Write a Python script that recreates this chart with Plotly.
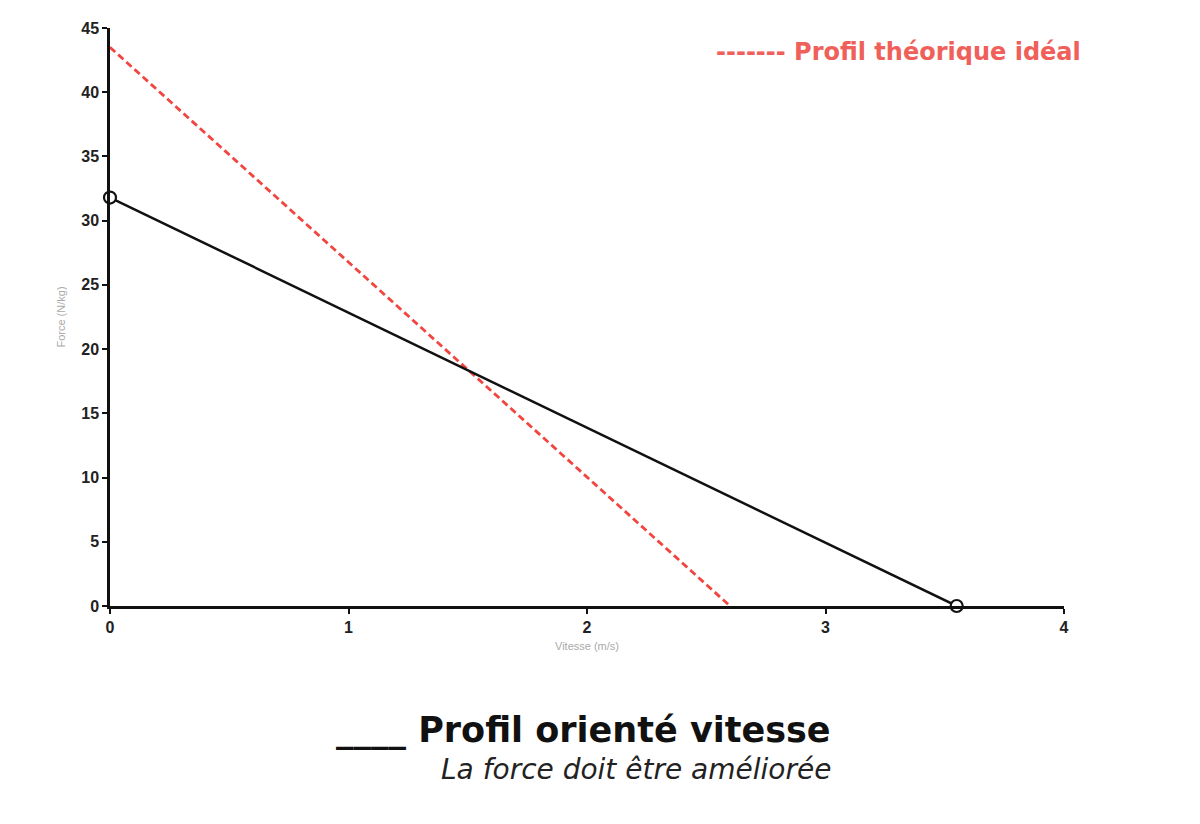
import plotly.graph_objects as go

# Data
profile_velocity = [0, 3.55]
profile_force = [31.8, 0]
ideal_velocity = [0, 2.6]
ideal_force = [43.5, 0]

x_ticks = [0, 1, 2, 3, 4]
y_ticks = [0, 5, 10, 15, 20, 25, 30, 35, 40, 45]

legend_text = "------- Profil théorique idéal"
title_text = "____ Profil orienté vitesse"
subtitle_text = "La force doit être améliorée"
x_title = "Vitesse (m/s)"
y_title = "Force (N/kg)"

fig = go.Figure()
fig.add_trace(go.Scatter(
    x=ideal_velocity, y=ideal_force, mode="lines",
    line=dict(color="#f2453f", width=2.8, dash="7px,4px"),
    showlegend=False, hoverinfo="skip", cliponaxis=False,
))
fig.add_trace(go.Scatter(
    x=profile_velocity, y=profile_force, mode="lines+markers",
    line=dict(color="#111111", width=2.5),
    marker=dict(size=12, color="white", line=dict(color="#111111", width=2.2)),
    showlegend=False, hoverinfo="skip", cliponaxis=False,
))

axis_common = dict(
    showgrid=False, zeroline=False, showline=True, linecolor="#111111", linewidth=2.5,
    ticks="outside", ticklen=5, tickwidth=2, tickcolor="#111111",
    tickfont=dict(family="Liberation Sans, Arial", size=16, color="#222222", weight="bold"),
)

fig.update_xaxes(range=[0, 4], tickvals=x_ticks, **axis_common,
                 title=dict(text=x_title, font=dict(family="Liberation Sans, Arial", size=11, color="#aaaaaa"), standoff=8))
fig.update_yaxes(range=[0, 45], tickvals=y_ticks, **axis_common,
                 title=dict(text=y_title, font=dict(family="Liberation Sans, Arial", size=11, color="#aaaaaa"), standoff=14))

fig.add_annotation(text=legend_text, xref="paper", yref="paper", x=1.02, y=0.959,
                   xanchor="right", yanchor="middle", showarrow=False,
                   font=dict(family="DejaVu Sans", size=24, color="#f0605a", weight="bold"))
fig.add_annotation(text=title_text, xref="paper", yref="paper", x=0.758, y=-0.214,
                   xanchor="right", yanchor="middle", showarrow=False,
                   font=dict(family="DejaVu Sans", size=35, color="#111111", weight="bold"))
fig.add_annotation(text="<i>" + subtitle_text + "</i>", xref="paper", yref="paper", x=0.758, y=-0.283,
                   xanchor="right", yanchor="middle", showarrow=False,
                   font=dict(family="DejaVu Sans", size=28, color="#222222", weight="normal"))

fig.update_layout(
    width=1200, height=824,
    margin=dict(l=102, r=144, t=15, b=226),
    plot_bgcolor="white", paper_bgcolor="white",
)

fig.write_html("out.html")
